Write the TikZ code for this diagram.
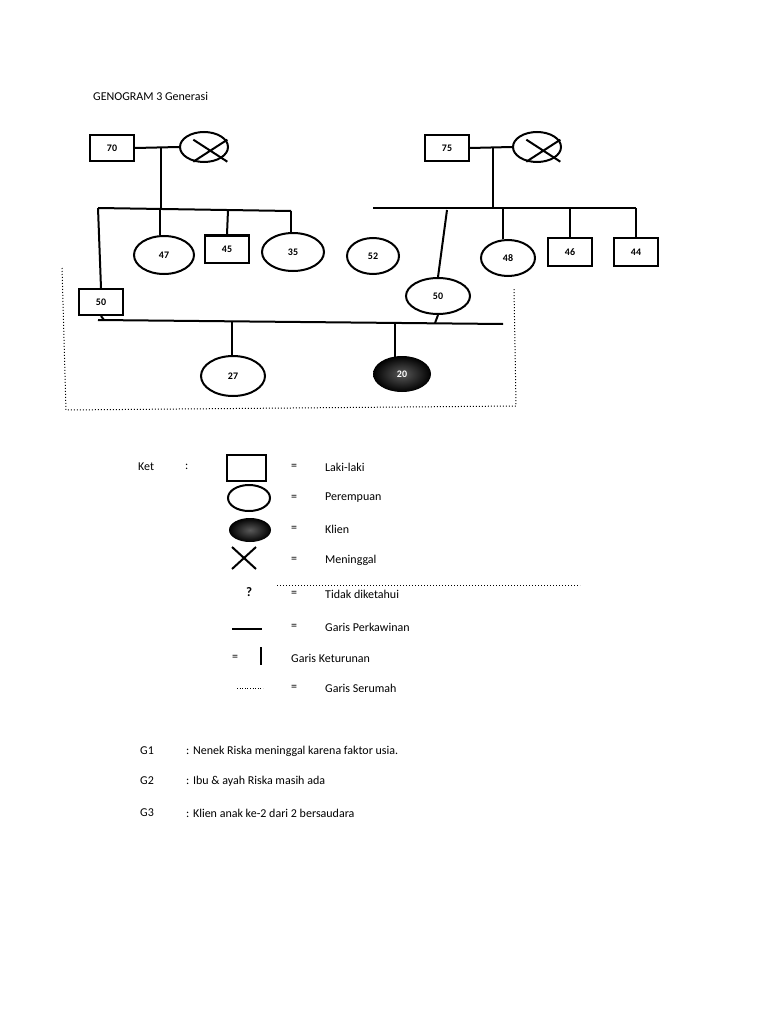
\documentclass[tikz,border=0pt]{standalone}
\usepackage{fontspec}
\setmainfont{Carlito}
\usetikzlibrary{positioning,shapes.geometric}
\tikzset{
  male/.style={draw,line width=2pt,minimum width=44pt,minimum height=26pt,inner sep=0pt,font=\bfseries},
  female/.style={draw,ellipse,line width=2pt,inner sep=0pt,font=\bfseries},
  klien/.style={ellipse,inner sep=0pt,font=\bfseries,text=white,shading=radial,inner color=gray!70!black,outer color=black},
  rel/.style={line width=2pt},
  serumah/.style={dotted,line width=1pt},
  lbl/.style={anchor=west,inner sep=0pt,font=\fontsize{12}{14}\selectfont}
}
\begin{document}
\begin{tikzpicture}[x=1pt,y=-1pt,font=\fontsize{12}{14}\selectfont]
    \useasboundingbox[fill=white] (0,0) rectangle (768,1024);
    \node[lbl] (title) at (93,96) {GENOGRAM 3 Generasi};

    % generasi 1 kiri
    \node[male] (kakek1) at (112,148) {70};
    \node[female,minimum width=48pt,minimum height=30pt] (nenek1) at (204,147) {};
    \draw[rel] (nenek1.north west) ++(7,4) -- ++(34,22) ++(0,-22) -- ++(-34,22);
    \draw[rel] (kakek1.east) -- (nenek1.west);
    \coordinate (m1) at (161,148);
    \coordinate (s1) at (161,208);
    \draw[rel] (m1) -- (s1);
    \coordinate (s1a) at (98,208);
    \coordinate (s1b) at (291,211);
    \draw[rel] (s1a) -- (s1b);

    % generasi 1 kanan
    \node[male] (kakek2) at (447,148) {75};
    \node[female,minimum width=48pt,minimum height=30pt] (nenek2) at (537,147) {};
    \draw[rel] (nenek2.north west) ++(7,4) -- ++(34,22) ++(0,-22) -- ++(-34,22);
    \draw[rel] (kakek2.east) -- (nenek2.west);
    \coordinate (m2) at (493,148);
    \coordinate (s2) at (493,208);
    \draw[rel] (m2) -- (s2);
    \coordinate (s2a) at (373,208);
    \coordinate (s2b) at (636,208);
    \draw[rel] (s2a) -- (s2b);

    % generasi 2
    \node[male] (ayah) at (101,302) {50};
    \node[female,minimum width=60pt,minimum height=38pt] (c47) at (164,255) {47};
    \node[male,minimum height=27pt] (c45) at (227,249) {45};
    \node[female,minimum width=62pt,minimum height=38pt] (c35) at (293,252) {35};
    \draw[rel] (s1a) -- (ayah.north);
    \draw[rel] (160,208) -- (c47.north -| 160,0);
    \draw[rel] (228,210) -- (c45.north);
    \draw[rel] (291,211) -- (c35.north -| 291,0);

    \node[female,minimum width=52pt,minimum height=36pt] (c52) at (373,256) {52};
    \node[female,minimum width=64pt,minimum height=36pt] (ibu) at (438,296) {50};
    \node[female,minimum width=54pt,minimum height=36pt] (c48) at (508,258) {48};
    \node[male,minimum height=28pt] (c46) at (570,252) {46};
    \node[male,minimum height=28pt] (c44) at (636,252) {44};
    \draw[rel] (447,210) -- (ibu.north);
    \draw[rel] (503,208) -- (c48.north -| 503,0);
    \draw[rel] (570,208) -- (c46.north);
    \draw[rel] (636,208) -- (c44.north);

    % perkawinan generasi 2
    \coordinate (p1) at (98,320);
    \coordinate (p2) at (503,324);
    \draw[rel] (p1) -- (p2);
    \draw[rel] (ayah.south) -- (104,320);
    \draw[rel] (ibu.south) -- (435,323);

    % generasi 3
    \node[female,minimum width=64pt,minimum height=40pt] (anak1) at (233,376) {27};
    \node[klien,minimum width=58pt,minimum height=36pt] (anak2) at (402,374) {20};
    \draw[rel] (232,322) -- (anak1.north -| 232,0);
    \draw[rel] (395,323) -- (395,357);

    % garis serumah
    \draw[serumah] (62,268) -- (66,410) -- (516,406) -- (514,288);

    % keterangan
    \node[lbl] (ket) at (138,467) {Ket};
    \node[lbl] at (185,467) {:};
    \node[draw,line width=2pt,minimum width=39pt,minimum height=26pt] (kl) at (246,468) {};
    \node[lbl] at (291,467) {=};
    \node[lbl] at (325,467) {Laki-laki};
    \node[female,minimum width=42pt,minimum height=26pt] (kp) at (249,498) {};
    \node[lbl] at (291,498) {=};
    \node[lbl] at (325,498) {Perempuan};
    \node[klien,minimum width=42pt,minimum height=24pt] (kk) at (250,530) {};
    \node[lbl] at (291,529) {=};
    \node[lbl] at (325,529) {Klien};
    \draw[rel] (232,547) -- (256,569) (256,547) -- (232,569);
    \node[lbl] at (291,560) {=};
    \node[lbl] at (325,560) {Meninggal};
    \draw[serumah] (277,585) -- (580,585);
    \node[lbl,font=\fontsize{13}{14}\selectfont\bfseries] at (246,592) {?};
    \node[lbl] at (291,594) {=};
    \node[lbl] at (325,594) {Tidak diketahui};
    \draw[rel] (232,629) -- (262,629);
    \node[lbl] at (291,627) {=};
    \node[lbl] at (325,627) {Garis Perkawinan};
    \node[lbl] at (232,658) {=};
    \draw[line width=2.5pt] (261,647) -- (261,665);
    \node[lbl] at (291,658) {Garis Keturunan};
    \draw[dotted,line width=0.6pt] (237,688) -- (263,688);
    \node[lbl] at (291,688) {=};
    \node[lbl] at (325,688) {Garis Serumah};

    \node[lbl] at (140,751) {G1};
    \node[lbl] at (186,751) {: Nenek Riska meninggal karena faktor usia.};
    \node[lbl] at (140,781) {G2};
    \node[lbl] at (186,781) {: Ibu \& ayah Riska masih ada};
    \node[lbl] at (140,813) {G3};
    \node[lbl] at (186,813) {: Klien anak ke-2 dari 2 bersaudara};
\end{tikzpicture}
\end{document}
